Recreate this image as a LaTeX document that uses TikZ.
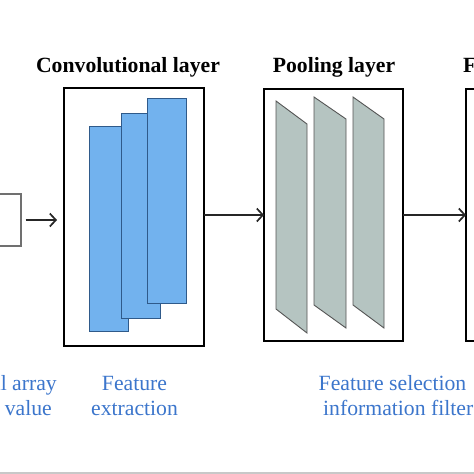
\documentclass[tikz,border=0pt]{standalone}
\usepackage{fontspec}
\setmainfont{Liberation Serif}
\usetikzlibrary{arrows.meta}
\definecolor{convblue}{HTML}{72B2EE}
\definecolor{convedge}{HTML}{2F5A8A}
\definecolor{poolgray}{HTML}{B5C4C1}
\definecolor{pooledge}{HTML}{555555}
\definecolor{capblue}{HTML}{3C76CC}
\definecolor{inedge}{HTML}{707070}
\definecolor{barGray}{HTML}{C8C8C8}
\tikzset{
  layerbox/.style={draw=black, line width=2pt, inner sep=0pt, outer sep=0pt, fill=white},
  title/.style={font=\fontsize{21.7}{26}\selectfont\bfseries, anchor=base, inner sep=0pt},
  caption/.style={font=\fontsize{21.7}{26}\selectfont, text=capblue, anchor=base, inner sep=0pt},
  fmap/.style={fill=convblue, draw=convedge, line width=0.9pt},
  pmap/.style={fill=poolgray, draw=pooledge, line width=0.9pt},
  arr/.style={-{Straight Barb[length=6pt,width=13pt,line width=1.7pt]}, line width=1.7pt, black!85},
}
\begin{document}
\begin{tikzpicture}[x=1pt,y=-1pt]
\useasboundingbox (0,0) rectangle (474,474);
\fill[white] (0,0) rectangle (474,474);
\fill[barGray] (0,472) rectangle (474,474);

% input box
\node[draw=inedge, line width=1.3pt, inner sep=0pt, minimum width=40pt, minimum height=52pt] (in) at (1,220) {};
\coordinate (inend) at (57,220);
\draw[arr] ([xshift=4pt]in.east) -- (inend);

% convolutional layer
\node[layerbox, minimum width=140pt, minimum height=258pt] (conv) at (134,217) {};
\node[title] (convt) at (128,72) {Convolutional layer};
\draw[fmap] (89,126) rectangle (128,331);
\draw[fmap] (121,113) rectangle (160,318);
\draw[fmap] (147,98) rectangle (186,303);

% pooling layer
\node[layerbox, minimum width=139pt, minimum height=252pt] (pool) at (333.5,215) {};
\node[title] (poolt) at (334,72) {Pooling layer};
\draw[pmap] (276,101) -- (307,124) -- (307,333) -- (276,309) -- cycle;
\draw[pmap] (314,97) -- (346,119) -- (346,328) -- (314,305) -- cycle;
\draw[pmap] (353,97) -- (384,119) -- (384,328) -- (353,305) -- cycle;

% fully connected layer (cut off)
\node[layerbox, minimum width=140pt, minimum height=252pt] (fc) at (536,215) {};
\node[title, anchor=base west] (fct) at (463,72) {Fully connected layer};

% connectors
\draw[arr] (conv.east |- pool.west) -- (pool.west);
\draw[arr] (pool.east) -- (fc.west);

% captions
\node[caption, anchor=base east] (c1a) at (57,390) {Numerical array};
\node[caption, anchor=base east] (c1b) at (52,415) {value};
\node[caption] (c2a) at (134.5,390) {Feature};
\node[caption] (c2b) at (134.5,415) {extraction};
\node[caption] (c3a) at (392.5,390) {Feature selection};
\node[caption, anchor=base west] (c3b) at (323,415) {information filter};
\end{tikzpicture}
\end{document}
